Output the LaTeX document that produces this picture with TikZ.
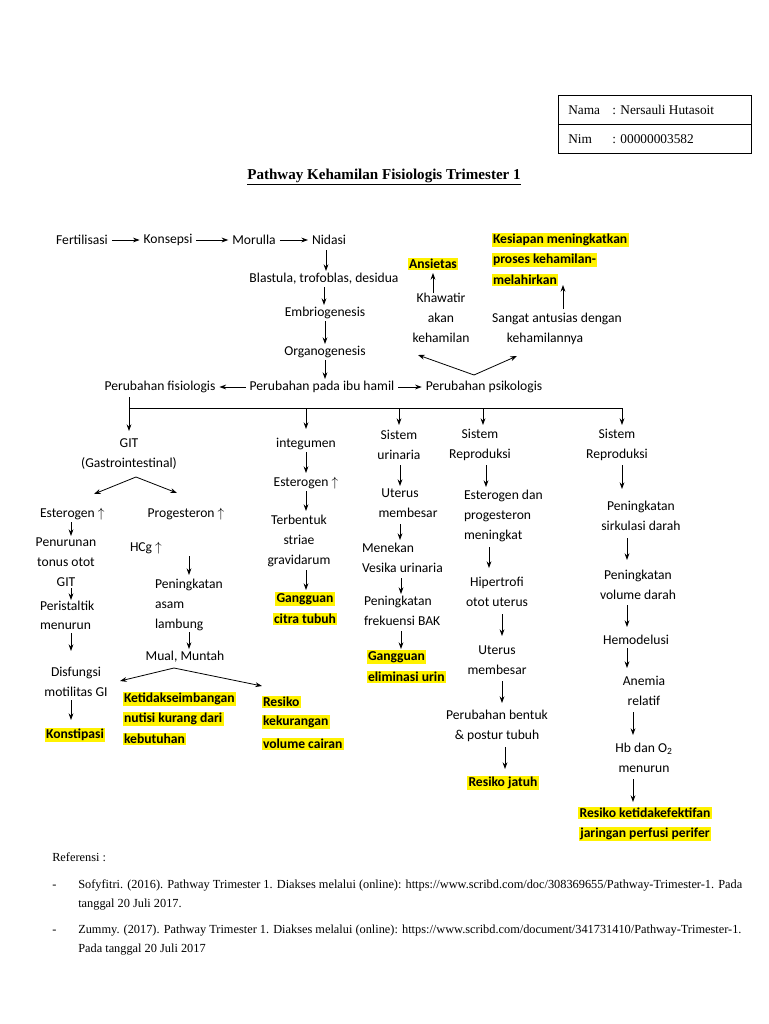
\documentclass[tikz,border=0pt]{standalone}
\usepackage{fontspec}
\setmainfont{Carlito}
\newfontfamily\tms{Liberation Serif}
\usetikzlibrary{arrows.meta}
\begin{document}
\begin{tikzpicture}[x=0.75pt,y=-0.75pt,
  txt/.style={inner sep=0pt,outer sep=3pt,font=\fontsize{10.2}{15}\selectfont,align=center},
  hl/.style={txt,fill=yellow,inner sep=1pt,outer sep=2pt,font=\fontsize{10.2}{15}\selectfont\bfseries},
  ref/.style={inner sep=0pt,anchor=base west,font=\tms\fontsize{9.25}{11}\selectfont},
  arr/.style={-{Stealth[length=5pt,width=3.6pt]},line width=0.6pt},
  ln/.style={line width=0.6pt}]
\useasboundingbox (0,0) rectangle (768,1024);
% header
\draw[line width=0.5pt] (558,95) rectangle (751,153);
\draw[line width=0.5pt] (558,124) -- (751,124);
\node[ref,font=\tms\fontsize{10}{12}\selectfont] (nama) at (568,114) {Nama};
\node[ref,font=\tms\fontsize{10}{12}\selectfont] (namav) at (612,114) {: Nersauli Hutasoit};
\node[ref,font=\tms\fontsize{10}{12}\selectfont] (nim) at (568,143) {Nim};
\node[ref,font=\tms\fontsize{10}{12}\selectfont] (nimv) at (612,143) {: 00000003582};
\node[inner sep=0pt,font=\tms\bfseries\fontsize{11.3}{13}\selectfont] (title) at (384,177) {\underline{Pathway Kehamilan Fisiologis Trimester 1}};
% top chain
\node[txt] (fert) at (82,240) {Fertilisasi};
\node[txt] (kons) at (168,240) {Konsepsi};
\node[txt] (mor) at (254,240) {Morulla};
\node[txt] (nid) at (329,240) {Nidasi};
\draw[arr] (fert) -- (kons);
\draw[arr] (kons) -- (mor);
\draw[arr] (mor) -- (nid);
\node[txt] (blas) at (324,279) {Blastula, trofoblas, desidua};
\node[txt] (emb) at (325,313) {Embriogenesis};
\node[txt] (org) at (325,352) {Organogenesis};
\node[txt] (pib) at (322,387) {Perubahan pada ibu hamil};
\node[txt] (pfis) at (160,387) {Perubahan fisiologis};
\node[txt] (psik) at (484,387) {Perubahan psikologis};
\draw[arr] (326,250) -- (326,271);
\draw[arr] (324,287) -- (324,305);
\draw[arr] (325,321) -- (325,344);
\draw[arr] (325,360) -- (325,379);
\draw[arr] (pib) -- (pfis);
\draw[arr] (pib) -- (psik);
% psych
\node[hl] (ans) at (433,264) {Ansietas};
\node[txt] (khaw) at (441,318) {Khawatir\\akan\\kehamilan};
\node[hl,anchor=west] (kes1) at (489,240) {Kesiapan meningkatkan};
\node[hl,anchor=west] (kes2) at (489,260) {proses kehamilan-};
\node[hl,anchor=west] (kes3) at (489,280) {melahirkan};
\node[txt] (sang) at (557,329) {Sangat antusias dengan\\\hspace*{-18pt}kehamilannya};
\coordinate (apex) at (474,375);
\draw[arr] (apex) -- (418,355);
\draw[arr] (apex) -- (517,356);
\draw[arr] (433,293) -- (433,273);
\draw[arr] (563,309) -- (563,285);
% branching
\draw[ln] (129,397) -- (129,408) -- (622,408);
\draw[arr] (129,408) -- (129,431);
\draw[arr] (306,408) -- (306,429);
\draw[arr] (399,408) -- (399,425);
\draw[arr] (483,408) -- (483,425);
\draw[arr] (622,408) -- (622,425);
% GIT
\node[txt] (git) at (129,454) {GIT\\(Gastrointestinal)};
\coordinate (gapex) at (136,477);
\draw[arr] (gapex) -- (94,494);
\draw[arr] (gapex) -- (177,493);
\node[txt,anchor=west,outer sep=0pt] (est1) at (40,514) {Esterogen $\uparrow$};
\node[txt] (pen) at (66,562) {Penurunan\\tonus otot\\GIT};
\node[txt,anchor=west,outer sep=0pt] (peri1) at (40,606) {Peristaltik};
\node[txt,anchor=west,outer sep=0pt] (peri2) at (40,626) {menurun};
\node[txt] (dis) at (76,682) {Disfungsi\\motilitas GI};
\node[hl] (kon) at (75,735) {Konstipasi};
\draw[arr] (71,522) -- (71,536);
\draw[arr] (71,588) -- (71,600);
\draw[arr] (71,633) -- (71,651);
\draw[arr] (71,700) -- (71,720);
\node[txt] (prog) at (186,514) {Progesteron $\uparrow$};
\node[txt,anchor=west,outer sep=0pt] (hcg) at (130,548) {HCg $\uparrow$};
\node[txt,anchor=west,align=left,outer sep=0pt] (asam) at (155,605) {Peningkatan\\asam\\lambung};
\node[txt] (mual) at (185,657) {Mual, Muntah};
\draw[arr] (189,556) -- (189,575);
\draw[arr] (189,632) -- (189,649);
\coordinate (mapex) at (174,668);
\draw[arr] (mapex) -- (120,681);
\draw[arr] (mapex) -- (262,686);
\node[hl,anchor=west] (ket1) at (120,699) {Ketidakseimbangan};
\node[hl,anchor=west] (ket2) at (120,719) {nutisi kurang dari};
\node[hl,anchor=west] (ket3) at (120,739) {kebutuhan};
\node[hl,anchor=west] (res1) at (259,702) {Resiko};
\node[hl,anchor=west] (res2) at (259,722) {kekurangan};
\node[hl,anchor=west] (res3) at (259,744) {volume cairan};
% integumen
\node[txt] (integ) at (306,444) {integumen};
\node[txt] (est2) at (306,483) {Esterogen $\uparrow$};
\node[txt] (stri) at (299,541) {Terbentuk\\striae\\gravidarum};
\node[hl] (gc1) at (305,599) {Gangguan};
\node[hl] (gc2) at (305,619) {citra tubuh};
\draw[arr] (306,452) -- (306,473);
\draw[arr] (306,491) -- (306,511);
\draw[arr] (306,570) -- (306,590);
% urinaria
\node[txt] (suri) at (399,445) {Sistem\\urinaria};
\node[txt] (utm) at (400,503) {Uterus\\\hspace*{12pt}membesar};
\node[txt,anchor=west,align=left,outer sep=0pt] (mene) at (362,558) {Menekan\\Vesika urinaria};
\node[txt,anchor=west,align=left,outer sep=0pt] (frek) at (364,611) {Peningkatan\\frekuensi BAK};
\node[hl,anchor=west] (ge1) at (364,657) {Gangguan};
\node[hl,anchor=west] (ge2) at (364,677) {eliminasi urin};
\draw[arr] (400,465) -- (400,486);
\draw[arr] (400,524) -- (400,540);
\draw[arr] (401,578) -- (401,594);
\draw[arr] (401,631) -- (401,649);
% reproduksi 1
\node[txt] (srep1) at (480,445) {Sistem\\Reproduksi};
\node[txt,anchor=west,align=left,outer sep=0pt] (estp) at (464,516) {Esterogen dan\\progesteron\\meningkat};
\node[txt] (hip) at (497,592) {Hipertrofi\\otot uterus};
\node[txt] (utm2) at (497,660) {Uterus\\membesar};
\node[txt] (pbt) at (497,726) {Perubahan bentuk\\\& postur tubuh};
\node[hl] (rj) at (503,783) {Resiko jatuh};
\draw[arr] (486,465) -- (486,487);
\draw[arr] (489,547) -- (489,568);
\draw[arr] (502,614) -- (502,636);
\draw[arr] (502,681) -- (502,703);
\draw[arr] (505,747) -- (505,769);
% reproduksi 2
\node[txt] (srep2) at (617,445) {Sistem\\Reproduksi};
\node[txt] (sirk) at (641,516) {Peningkatan\\sirkulasi darah};
\node[txt] (vol) at (638,585) {Peningkatan\\volume darah};
\node[txt] (hemo) at (636,640) {Hemodelusi};
\node[txt] (anem) at (644,691) {Anemia\\relatif};
\node[txt] (hb) at (644,758) {Hb dan O\textsubscript{2}\\menurun};
\node[hl] (rk1) at (645,813) {Resiko ketidakefektifan};
\node[hl] (rk2) at (645,834) {jaringan perfusi perifer};
\draw[arr] (622,465) -- (622,489);
\draw[arr] (627,538) -- (627,560);
\draw[arr] (627,605) -- (627,627);
\draw[arr] (627,648) -- (627,668);
\draw[arr] (633,712) -- (633,735);
\draw[arr] (633,779) -- (633,802);
% references
\node[ref] (rf) at (52,861) {Referensi :};
\node[ref] (d1) at (52,888) {-};
\node[ref] (r1a) at (78,888) {Sofyfitri. (2016). Pathway Trimester 1. Diakses melalui (online): https://www.scribd.com/doc/308369655/Pathway-Trimester-1. Pada};
\node[ref] (r1b) at (78,907) {tanggal 20 Juli 2017.};
\node[ref] (d2) at (52,933) {-};
\node[ref] (r2a) at (78,933) {Zummy. (2017). Pathway Trimester 1. Diakses melalui (online): https://www.scribd.com/document/341731410/Pathway-Trimester-1.};
\node[ref] (r2b) at (78,952) {Pada tanggal 20 Juli 2017};
\end{tikzpicture}
\end{document}
